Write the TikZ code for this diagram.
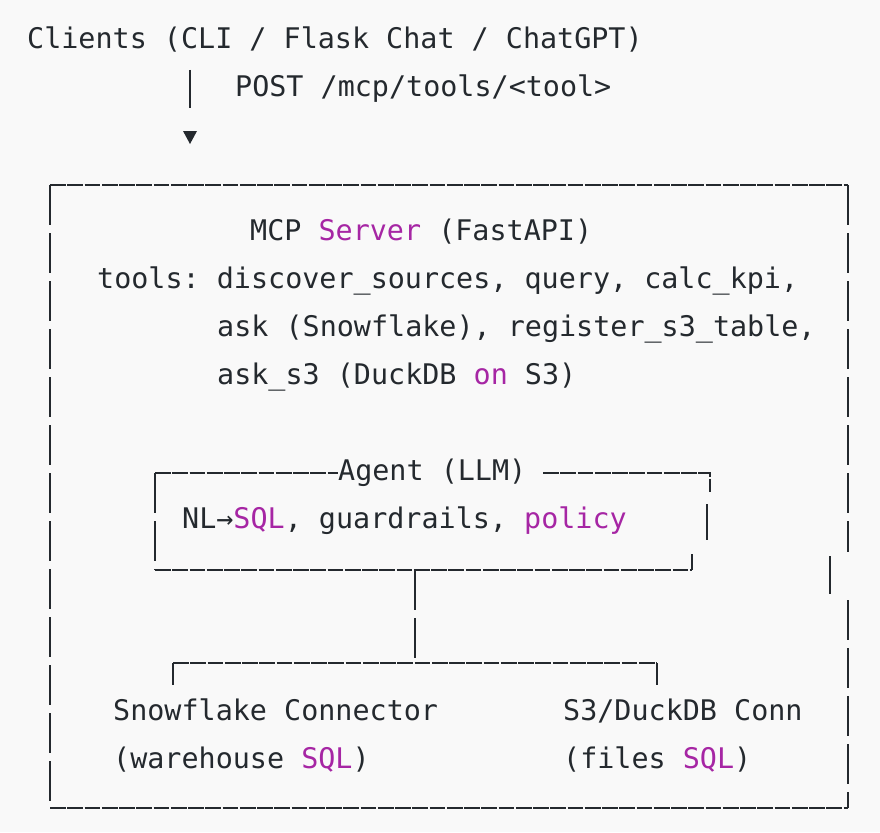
\documentclass[tikz,border=0pt]{standalone}
\usepackage{fontspec}
\setmonofont{DejaVu Sans Mono}
\definecolor{ink}{HTML}{24292E}
\definecolor{kw}{HTML}{A626A4}
\definecolor{paper}{HTML}{F9F9F9}
\tikzset{
  txt/.style={anchor=west, inner sep=0pt, text=ink, font=\ttfamily\fontsize{28.4}{34}\selectfont, text height=21pt, text depth=6pt},
  hline/.style={draw=ink, line width=1.5pt, dash pattern=on 15.9pt off 1.35pt},
  vline/.style={draw=ink, line width=1.5pt, dash pattern=on 40pt off 8pt},
}
\begin{document}
\begin{tikzpicture}[x=1pt,y=-1pt]
  \fill[paper] (0,0) rectangle (880,832);
  \useasboundingbox (0,0) rectangle (880,832);

  % clients and request
  \node (client) [txt] at (27,41) {Clients (CLI / Flask Chat / ChatGPT)};
  \node (post) [txt] at (235,89) {POST /mcp/tools/<tool>};
  \coordinate (bartop) at (190,70);
  \coordinate (barbot) at (190,108);
  \draw[ink, line width=1.5pt] (bartop) -- (barbot);
  \fill[ink] (183,131) -- (197,131) -- (190,144) -- cycle;

  % server box
  \coordinate (otl) at (50,185);
  \coordinate (otr) at (848,185);
  \coordinate (obl) at (50,808);
  \coordinate (obr) at (848,808);
  \draw[hline] (otl) -- (otr);
  \draw[hline] (obl) -- (obr);
  \draw[vline] (otl) -- (obl);
  \draw[vline] (otr) -- (848,552);
  \draw[ink, line width=1.5pt] (830,556) -- (830,594);
  \draw[vline] (848,600) -- (obr);

  \node (mcp) [txt] at (250,233) {MCP \textcolor{kw}{Server} (FastAPI)};
  \node (tools1) [txt] at (97,281) {tools: discover\_sources, query, calc\_kpi,};
  \node (tools2) [txt] at (217,329) {ask (Snowflake), register\_s3\_table,};
  \node (tools3) [txt] at (217,377) {ask\_s3 (DuckDB \textcolor{kw}{on} S3)};

  % agent box
  \node (agent) [txt] at (338,473) {Agent (LLM)};
  \node (nlsql) [txt] at (182,521) {NL\textrightarrow\textcolor{kw}{SQL}, guardrails, \textcolor{kw}{policy}};
  \coordinate (atl) at (155,473);
  \coordinate (atr) at (710,473);
  \coordinate (abl) at (155,570);
  \coordinate (abr) at (692,570);
  \coordinate (join) at (415,570);
  \draw[hline] (atl) -- (agent.west) ++(-16,0);
  \draw[hline] (atl) -- (322,473);
  \draw[hline] (543,473) -- (atr) -- (710,492);
  \draw[ink, line width=1.5pt] (707,504) -- (707,540);
  \draw[hline] (abr) -- (692,553);
  \draw[vline] (atl) -- (abl);
  \draw[hline] (abl) -- (abr);

  % connectors
  \coordinate (fork) at (415,663);
  \coordinate (fl) at (173,663);
  \coordinate (fr) at (657,663);
  \draw[vline] (join) -- (fork);
  \draw[hline] (fl) -- (fr);
  \draw[ink, line width=1.5pt] (fl) -- (173,685);
  \draw[ink, line width=1.5pt] (fr) -- (657,685);

  \node (snow) [txt] at (113,713) {Snowflake Connector};
  \node (snowsql) [txt] at (113,761) {(warehouse \textcolor{kw}{SQL})};
  \node (s3) [txt] at (563,713) {S3/DuckDB Conn};
  \node (s3sql) [txt] at (563,761) {(files \textcolor{kw}{SQL})};
\end{tikzpicture}
\end{document}
